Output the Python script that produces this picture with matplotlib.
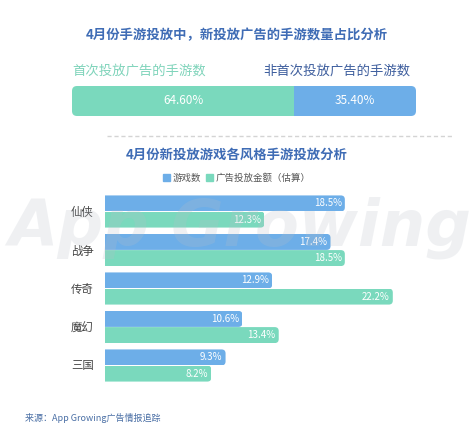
import numpy as np
import matplotlib
matplotlib.use("Agg")
import matplotlib.pyplot as plt
from matplotlib.lines import Line2D
from matplotlib.patches import FancyBboxPatch, Patch

plt.rcParams['font.family'] = ['Noto Sans CJK SC', 'DejaVu Sans']

# data
share_labels = ['首次投放广告的手游数', '非首次投放广告的手游数']
share_values = [64.60, 35.40]

styles = ['仙侠', '战争', '传奇', '魔幻', '三国']
games_pct = [18.5, 17.4, 12.9, 10.6, 9.3]
spend_pct = [12.3, 18.5, 22.2, 13.4, 8.2]
series_names = ['游戏数', '广告投放金额（估算）']

GREEN = '#7ad9bd'
BLUE = '#6daee8'
W, H = 474, 433

fig = plt.figure(figsize=(W / 100, H / 100), dpi=100)

def fx(px):
    return px / W

def fy(py):
    return 1 - py / H

def rounded(ax, x0, y0, w, h, r_px, px_x, px_y):
    # rounded box in data coords, corner radius given in pixels
    rx = r_px / px_x
    ry = r_px / px_y
    return FancyBboxPatch((x0, y0), w, h,
                          boxstyle='round,pad=0,rounding_size=%f' % rx,
                          mutation_aspect=ry / rx, transform=ax.transData)

# titles
fig.text(fx(237), fy(35), '4月份手游投放中，新投放广告的手游数量占比分析',
         ha='center', va='center', fontsize=9.6, fontweight='bold', color='#3f6cb5')
fig.text(fx(72), fy(71), share_labels[0], ha='left', va='center',
         fontsize=9.6, color='#80d4bb')
fig.text(fx(410), fy(71), share_labels[1], ha='right', va='center',
         fontsize=9.6, color='#3f5f9e')

# top stacked bar
ax1 = fig.add_axes([fx(72), fy(116), 344 / W, 30 / H])
total = sum(share_values)
clip1 = rounded(ax1, 0, -0.5, total, 1, 5, 344 / total, 30)
left = 0
for v, c in zip(share_values, [GREEN, BLUE]):
    bars = ax1.barh(0, v, left=left, height=1, color=c, edgecolor='none')
    for r in bars:
        r.set_clip_path(clip1)
    ax1.text(left + v / 2, 0, '%.2f%%' % v, ha='center', va='center',
             color='white', fontsize=8.5)
    left += v
ax1.set_xlim(0, total)
ax1.set_ylim(-0.5, 0.5)
ax1.axis('off')

# dashed separator
fig.add_artist(Line2D([fx(107), fx(453)], [fy(136), fy(136)], color='#d4d4d4',
                      lw=1, ls=(0, (3, 2))))

fig.text(fx(237), fy(155), '4月份新投放游戏各风格手游投放分析',
         ha='center', va='center', fontsize=9.6, fontweight='bold', color='#3f6cb5')

# watermark
fig.text(fx(240), fy(228), 'App Growing', ha='center', va='center',
         fontsize=46, fontweight='bold', style='italic', color='#b8bec8',
         alpha=0.22, zorder=10, family='DejaVu Sans')

# grouped bars
ax2 = fig.add_axes([fx(105), fy(388.6), 363 / W, 200.2 / H])
ax2.patch.set_visible(False)
xmax = 28
px_x = 363 / xmax
px_y = 38.5
y = np.arange(len(styles))
off = 0.21
h = 0.415
b1 = ax2.barh(y - off, games_pct, height=h, color=BLUE, edgecolor='none')
b2 = ax2.barh(y + off, spend_pct, height=h, color=GREEN, edgecolor='none')
for bars, vals in [(b1, games_pct), (b2, spend_pct)]:
    for r, v in zip(bars, vals):
        r.set_clip_path(rounded(ax2, -1, r.get_y(), v + 1, r.get_height(),
                                4, px_x, px_y))
        ax2.text(v - 0.25, r.get_y() + r.get_height() / 2, '%.1f%%' % v,
                 ha='right', va='center', color='white', fontsize=7)
ax2.set_xlim(0, xmax)
ax2.set_ylim(len(styles) - 0.4, -0.6)
ax2.set_yticks(y)
ax2.set_yticklabels(styles, fontsize=8.2, color='#444444')
ax2.tick_params(axis='y', length=0, pad=8)
ax2.set_xticks([])
for s in ax2.spines.values():
    s.set_visible(False)

handles = [Patch(color=BLUE), Patch(color=GREEN)]
fig.legend(handles=handles, labels=series_names, loc='center',
           bbox_to_anchor=(fx(237), fy(178)), ncol=2, frameon=False,
           fontsize=6.8, handlelength=0.7, handleheight=0.7,
           columnspacing=0.5, handletextpad=0.3, labelcolor='#555555')

fig.text(fx(25), fy(418), '来源：App Growing广告情报追踪', ha='left', va='center',
         fontsize=6.5, color='#4a6fa5')

fig.savefig('out.png', dpi=100)
